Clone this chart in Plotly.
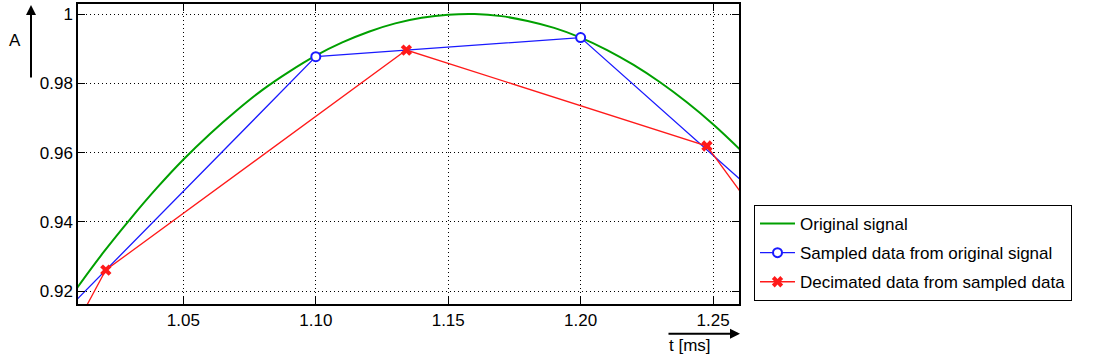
import plotly.graph_objects as go

# Original signal
t_orig = [1.00, 1.01, 1.02, 1.03, 1.04, 1.05, 1.06, 1.07, 1.08, 1.09, 1.10, 1.11, 1.12, 1.13,
          1.14, 1.15, 1.16, 1.17, 1.18, 1.19, 1.20, 1.21, 1.22, 1.23, 1.24, 1.25, 1.26, 1.27]
a_orig = [0.9102, 0.9211, 0.9314, 0.9409, 0.9498, 0.9580, 0.9654, 0.9721, 0.9782, 0.9834,
          0.9880, 0.9918, 0.9949, 0.9973, 0.9989, 0.9998, 1.0000, 0.9994, 0.9980, 0.9960,
          0.9932, 0.9896, 0.9853, 0.9803, 0.9746, 0.9682, 0.9610, 0.9531]

# Sampled data
t_samp = [1.00, 1.10, 1.20, 1.30]
a_samp = [0.9100, 0.9877, 0.9932, 0.9253]

# Decimated data
t_dec = [0.9072, 1.0207, 1.1342, 1.2477, 1.3612]
a_dec = [0.7650, 0.9261, 0.9896, 0.9619, 0.8430]

x_ticks = [1.05, 1.10, 1.15, 1.20, 1.25]
y_ticks = [0.92, 0.94, 0.96, 0.98, 1.00]

FONT = "Liberation Sans, Arial, sans-serif"
FS = 17

fig = go.Figure()
fig.add_trace(go.Scatter(x=t_orig, y=a_orig, mode="lines", name="Original signal",
                         line=dict(color="#00A000", width=2, shape="spline"),
                         legendgroup="g1"))
fig.add_trace(go.Scatter(x=t_samp, y=a_samp, mode="lines+markers",
                         name="Sampled data from original signal",
                         line=dict(color="#1A1AFF", width=1.3),
                         marker=dict(symbol="circle", size=9, color="white",
                                     line=dict(color="#1A1AFF", width=2)),
                         legendgroup="g2"))
fig.add_trace(go.Scatter(x=t_dec, y=a_dec, mode="lines+markers",
                         name="Decimated data from sampled data",
                         line=dict(color="#FF1A1A", width=1.3),
                         marker=dict(symbol="x", size=10, color="#FF1A1A",
                                     line=dict(width=0)),
                         legendgroup="g3"))

axis_common = dict(showline=True, linecolor="black", linewidth=1.5, mirror="ticks",
                   ticks="inside", ticklen=7, tickcolor="black", tickwidth=1.2,
                   showgrid=True, gridcolor="black", gridwidth=1, griddash="1px,3px",
                   zeroline=False, tickfont=dict(family=FONT, size=FS, color="black"))

fig.update_xaxes(range=[1.0102, 1.2598], tickvals=x_ticks,
                 ticktext=[f"{v:.2f}" for v in x_ticks], **axis_common)
fig.update_yaxes(range=[0.9163, 1.0029], tickvals=y_ticks,
                 ticktext=["0.92", "0.94", "0.96", "0.98", "1"], **axis_common)

fig.update_layout(
    width=1112, height=360,
    margin=dict(l=78, r=373, t=2, b=56),
    plot_bgcolor="white", paper_bgcolor="white",
    font=dict(family=FONT, size=FS, color="black"),
    showlegend=True,
    legend=dict(x=1.0227, y=0.33, xanchor="left", yanchor="top",
                bordercolor="black", borderwidth=1, bgcolor="white",
                traceorder="grouped", tracegroupgap=4, itemwidth=35,
                font=dict(family=FONT, size=FS, color="black")),
    annotations=[
        dict(xref="paper", yref="paper", x=-0.0711, y=0.9967, ax=0, ay=74,
             text="", showarrow=True, arrowhead=2, arrowsize=1, arrowwidth=2,
             arrowcolor="black"),
        dict(xref="paper", yref="paper", x=-0.0953, y=0.917, text="A",
             xanchor="center", yanchor="top",
             showarrow=False, font=dict(family=FONT, size=FS, color="black")),
        dict(xref="paper", yref="paper", x=1.0015, y=-0.0993, ax=-73, ay=0,
             text="", showarrow=True, arrowhead=2, arrowsize=1, arrowwidth=2,
             arrowcolor="black"),
        dict(xref="paper", yref="paper", x=0.926, y=-0.099, text="t [ms]",
             xanchor="center", yanchor="top",
             showarrow=False, font=dict(family=FONT, size=FS, color="black")),
    ],
)

fig.write_html("out.html", config={"displayModeBar": False},
               post_script="document.body.style.margin='0';")
